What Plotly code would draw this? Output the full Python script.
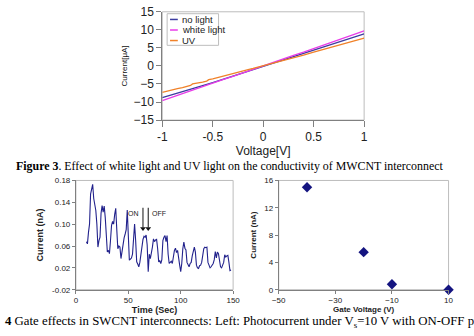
import plotly.graph_objects as go

# ---------------- Figure 3 data (I-V curves) ----------------
voltage = [-1.0, -0.9, -0.8, -0.7, -0.6, -0.5, -0.4, -0.3, -0.2, -0.1, 0.0,
           0.1, 0.2, 0.3, 0.4, 0.5, 0.6, 0.7, 0.8, 0.9, 1.0]
no_light = [-8.8, -8.0, -7.1, -6.2, -5.4, -4.6, -3.7, -2.8, -1.9, -1.0, 0.0,
            0.9, 1.8, 2.7, 3.6, 4.5, 5.4, 6.2, 7.1, 8.0, 8.9]
white_light = [-9.6, -8.6, -7.6, -6.7, -5.7, -4.8, -3.8, -2.9, -1.9, -1.0, 0.0,
               0.95, 1.9, 2.9, 3.8, 4.8, 5.8, 6.8, 7.7, 8.7, 9.7]
uv_voltage = [-1.0, -0.95, -0.9, -0.85, -0.8, -0.75, -0.72, -0.7, -0.65, -0.6, -0.56,
              -0.54, -0.5, -0.45, -0.4, -0.35, -0.3, -0.25, -0.2, -0.15, -0.1, -0.05,
              0.0, 0.1, 0.2, 0.3, 0.4, 0.5, 0.6, 0.7, 0.8, 0.9, 1.0]
uv = [-7.3, -6.9, -6.7, -6.3, -6.0, -5.6, -5.4, -5.0, -4.8, -4.5, -4.2,
      -3.8, -3.6, -3.2, -2.8, -2.5, -2.1, -1.8, -1.4, -1.0, -0.7, -0.35,
      0.0, 0.75, 1.5, 2.3, 3.0, 3.8, 4.6, 5.4, 6.2, 7.0, 7.7]
series_names = ["no light", "white light", "UV"]
series_colors = ["#3c3ca0", "#e83ce8", "#f0822a"]

# ---------------- Figure 4 left data (photocurrent vs time) ----------------
time_s = list(range(10, 149))
current_t = [0.068, 0.064, 0.085, 0.100, 0.155, 0.165, 0.173, 0.147, 0.138, 0.125,
             0.100, 0.058, 0.070, 0.076, 0.120, 0.134, 0.122, 0.133, 0.112, 0.067,
             0.049, 0.052, 0.046, 0.070, 0.098, 0.105, 0.100, 0.118, 0.129, 0.090,
             0.055, 0.060, 0.058, 0.037, 0.050, 0.067, 0.075, 0.082, 0.090, 0.126,
             0.080, 0.034, 0.036, 0.038, 0.045, 0.073, 0.100, 0.070, 0.031, 0.027,
             0.022, 0.030, 0.045, 0.067, 0.072, 0.078, 0.076, 0.080, 0.062, 0.013,
             0.045, 0.037, 0.045, 0.058, 0.073, 0.068, 0.071, 0.072, 0.055, 0.031,
             0.033, 0.028, 0.035, 0.070, 0.076, 0.079, 0.068, 0.079, 0.045, 0.028,
             0.030, 0.032, 0.028, 0.045, 0.052, 0.056, 0.048, 0.052, 0.035, 0.025,
             0.013, 0.028, 0.055, 0.067, 0.056, 0.053, 0.030, 0.025, 0.022, 0.028,
             0.030, 0.042, 0.052, 0.058, 0.049, 0.025, 0.020, 0.019, 0.024, 0.025,
             0.030, 0.045, 0.055, 0.058, 0.057, 0.058, 0.030, 0.025, 0.020, 0.022,
             0.025, 0.028, 0.035, 0.050, 0.038, 0.049, 0.046, 0.030, 0.022, 0.020,
             0.024, 0.030, 0.044, 0.040, 0.042, 0.043, 0.030, 0.015, 0.016]
arrow_times = [64, 69]

# ---------------- Figure 4 right data (current vs gate voltage) ----------------
gate_voltage = [-40, -20, -10, 10]
gate_current = [15.0, 5.5, 0.8, 0.0]

# tick labels
top_x_ticks = [-1, -0.5, 0, 0.5, 1]
top_x_text = ["-1", "-0.5", "0", "0.5", "1"]
top_y_ticks = [-15, -10, -5, 0, 5, 10, 15]
left_x_ticks = [0, 50, 100, 150]
left_y_ticks = [-0.02, 0.02, 0.06, 0.10, 0.14, 0.18]
left_y_text = ["-0.02", "0.02", "0.06", "0.10", "0.14", "0.18"]
right_x_ticks = [-50, -30, -10, 10]
right_y_ticks = [0, 4, 8, 12, 16]

W, H = 474, 336
def px_x(p):
    return p / W
def px_y(p):
    return 1 - p / H

SANS = "Liberation Sans, Arial, sans-serif"
SERIF = "Liberation Serif, Times New Roman, serif"
AXC = "#808080"
FRAME = "#bdbdbd"

fig = go.Figure()
for xs, ys, nm, col in [(voltage, no_light, series_names[0], series_colors[0]),
                        (voltage, white_light, series_names[1], series_colors[1]),
                        (uv_voltage, uv, series_names[2], series_colors[2])]:
    fig.add_trace(go.Scatter(x=xs, y=ys, mode="lines", name=nm, showlegend=False,
                             line=dict(color=col, width=1.3), xaxis="x", yaxis="y"))
fig.add_trace(go.Scatter(x=time_s, y=current_t, mode="lines", showlegend=False,
                         line=dict(color="#22228c", width=1.1), xaxis="x2", yaxis="y2"))
fig.add_trace(go.Scatter(x=arrow_times, y=[0.092, 0.092], mode="markers", showlegend=False,
                         marker=dict(symbol="triangle-down", size=5, color="#111"),
                         xaxis="x2", yaxis="y2"))
fig.add_trace(go.Scatter(x=gate_voltage, y=gate_current, mode="markers", showlegend=False,
                         marker=dict(symbol="diamond", size=8, color="#141480"),
                         xaxis="x3", yaxis="y3", cliponaxis=False))

def ax(domain, rng, tickvals, ticktext=None, size=11, anchor=None):
    d = dict(domain=domain, range=rng, tickvals=tickvals, showgrid=False, zeroline=False,
             showline=True, linecolor=AXC, linewidth=1, ticks="outside", ticklen=3,
             tickcolor=AXC, tickfont=dict(family=SANS, size=size, color="#222"),
             anchor=anchor, fixedrange=True)
    if ticktext is not None:
        d["ticktext"] = ticktext
    return d

top_xd = [px_x(160), px_x(368)]
top_yd = [px_y(118), px_y(5)]
bl_xd = [px_x(71), px_x(233)]
bl_yd = [px_y(295), px_y(181)]
br_xd = [px_x(280), px_x(455)]
br_yd = bl_yd

xa1 = ax(top_xd, [-1, 1], top_x_ticks, top_x_text, size=12, anchor="y")
xa1["ticklen"] = 6
xa1["title"] = dict(text="Voltage[V]", font=dict(family=SANS, size=12, color="#222"), standoff=0)
ya1 = ax(top_yd, [-15, 15], top_y_ticks, size=12, anchor="x")
ya1["ticklen"] = 5
ya1["title"] = dict(text="Current[μA]", font=dict(family=SANS, size=8, color="#111"), standoff=4)

xa2 = ax(bl_xd, [0, 150], left_x_ticks, size=8, anchor="y2")
xa2["title"] = dict(text="<b>Time (Sec)</b>", font=dict(family=SANS, size=9, color="#222"), standoff=2)
ya2 = ax(bl_yd, [-0.02, 0.18], left_y_ticks, left_y_text, size=8, anchor="x2")
ya2["title"] = dict(text="<b>Current (nA)</b>", font=dict(family=SANS, size=9, color="#222"), standoff=6)

xa3 = ax(br_xd, [-50, 10], right_x_ticks, size=8, anchor="y3")
xa3["title"] = dict(text="<b>Gate Voltage (V)</b>", font=dict(family=SANS, size=8, color="#222"), standoff=2)
ya3 = ax(br_yd, [0, 16], right_y_ticks, size=8, anchor="x3")
ya3["title"] = dict(text="<b>Current (nA)</b>", font=dict(family=SANS, size=8, color="#222"), standoff=6)

shapes = []
for xr, yr in [("x", "y"), ("x2", "y2"), ("x3", "y3")]:
    shapes.append(dict(type="rect", xref=f"{xr} domain", yref=f"{yr} domain",
                       x0=0, x1=1, y0=0, y1=1, line=dict(color=FRAME, width=1),
                       layer="below"))
# ON/OFF arrow shafts
for t in arrow_times:
    shapes.append(dict(type="line", xref="x2", yref="y2", x0=t, x1=t, y0=0.13, y1=0.094,
                       line=dict(color="#111", width=1)))

# manual compact legend for Figure 3
shapes.append(dict(type="rect", xref="paper", yref="paper",
                   x0=px_x(165), x1=px_x(218), y0=px_y(40), y1=px_y(7),
                   line=dict(color=FRAME, width=1), fillcolor="white", layer="above"))
annotations = []
for i, (nm, col) in enumerate(zip(series_names, series_colors)):
    yy = 13 + 11 * i
    shapes.append(dict(type="line", xref="paper", yref="paper",
                       x0=px_x(168), x1=px_x(176), y0=px_y(yy), y1=px_y(yy),
                       line=dict(color=col, width=1.5)))
    annotations.append(dict(text=nm, xref="paper", yref="paper", x=px_x(178), y=px_y(yy),
                            xanchor="left", yanchor="middle", showarrow=False,
                            font=dict(family=SANS, size=9.5, color="#222")))

annotations += [
    dict(text="<b>Figure 3</b>. Effect of white light and UV light on the conductivity of MWCNT interconnect",
         xref="paper", yref="paper", x=px_x(7), y=px_y(166), xanchor="left", yanchor="middle",
         showarrow=False, font=dict(family=SERIF, size=11.9, color="#000")),
    dict(text="<b>4</b> Gate effects in SWCNT interconnects: Left: Photocurrent under V<sub>s</sub>=10 V with ON-OFF pu",
         xref="paper", yref="paper", x=px_x(-4), y=px_y(329), xanchor="left", yanchor="middle",
         showarrow=False, font=dict(family=SERIF, size=12.8, color="#000")),
    dict(text="ON", xref="x2", yref="y2", x=62, y=0.119, xanchor="right", showarrow=False,
         font=dict(family=SANS, size=7, color="#222")),
    dict(text="OFF", xref="x2", yref="y2", x=71, y=0.119, xanchor="left", showarrow=False,
         font=dict(family=SANS, size=7, color="#222")),
]

fig.update_layout(
    width=W, height=H, margin=dict(l=0, r=0, t=0, b=0),
    paper_bgcolor="white", plot_bgcolor="white",
    xaxis=xa1, yaxis=ya1, xaxis2=xa2, yaxis2=ya2, xaxis3=xa3, yaxis3=ya3,
    shapes=shapes, annotations=annotations, showlegend=False,
)

fig.write_html("out.html")
